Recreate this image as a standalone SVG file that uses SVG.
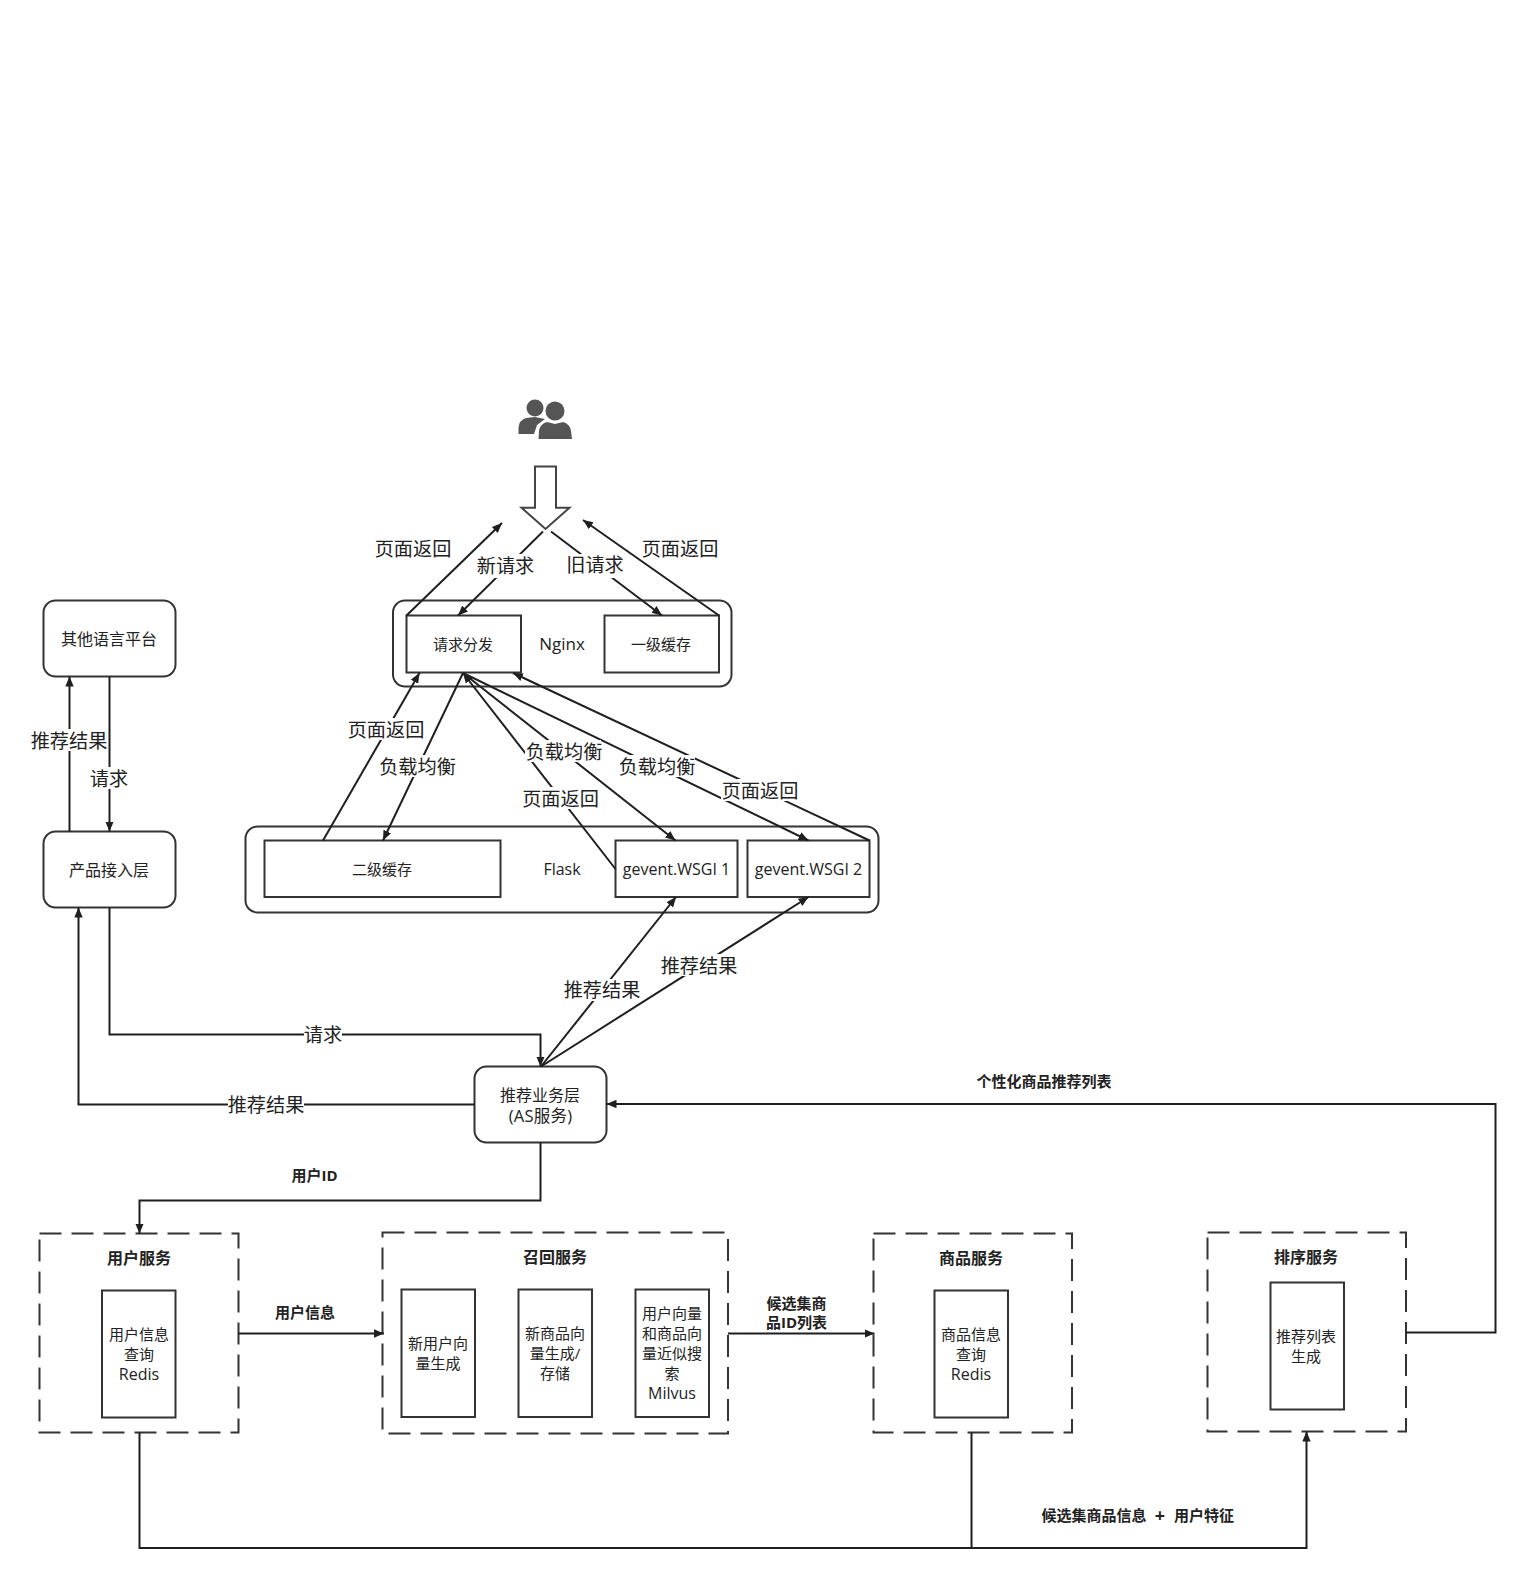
<svg xmlns="http://www.w3.org/2000/svg" width="1539" height="1592" viewBox="0 0 1539 1592">
<style>
text{font-family:"Open Sans","Noto Sans CJK SC",sans-serif;fill:#222;text-anchor:middle;dominant-baseline:central}
.s{font-size:15px}.m{font-size:16px}.l{font-size:19.200px}.b{font-size:16px;font-weight:700}.bs{font-size:15px;font-weight:700}
.box{fill:#fff;stroke:#333;stroke-width:2}
.dash{fill:none;stroke:#333;stroke-width:2;stroke-dasharray:22 10}
.c{fill:none;stroke:#1f1f1f;stroke-width:2}
.a{marker-end:url(#ah)}
.bg{fill:#fff;stroke:none}
</style>
<defs><marker id="ah" markerUnits="userSpaceOnUse" markerWidth="11" markerHeight="10" refX="10" refY="5" orient="auto"><path d="M0 0.8L10 5L0 9.2Z" fill="#1f1f1f"/></marker></defs>
<rect width="1539" height="1592" fill="#fff"/>
<g id="users"><circle cx="535" cy="408" r="8.500" fill="#555"/><path d="M518.500 434L518.500 428Q519 420 526 418L535 417L545 419L537 425L534 434Z" fill="#555"/><circle cx="555" cy="411" r="9.500" fill="#555"/><path d="M538.500 439L539 431Q540 424 547 422L555 424L563 422Q570 424 571 431L572 439Z" fill="#555"/></g>
<g id="down-arrow"><path d="M535 466.500H556V507.700L569.500 507.700L545.500 529L521.500 507.700L535 507.700Z" fill="#fff" stroke="#444" stroke-width="2"/></g>
<g id="nginx"><rect class="box" x="393" y="600.500" width="338.500" height="86" rx="12"/><text x="562" y="643.500" style="font-size:17px">Nginx</text></g>
<g id="req-dispatch"><rect class="box" x="406.500" y="615.500" width="114.500" height="57"/><text class="s" x="463" y="644">请求分发</text></g>
<g id="cache1"><rect class="box" x="604.500" y="615.500" width="114.500" height="57"/><text class="s" x="661" y="644">一级缓存</text></g>
<g id="flask"><rect class="box" x="245.500" y="826.500" width="633" height="86" rx="12"/><text class="m" x="562" y="869">Flask</text></g>
<g id="cache2"><rect class="box" x="264.500" y="840.500" width="236" height="56.500"/><text class="s" x="382" y="869">二级缓存</text></g>
<g id="gevent1"><rect class="box" x="615.500" y="840.500" width="122" height="56.500"/><text class="m" x="676.500" y="869">gevent.WSGI 1</text></g>
<g id="gevent2"><rect class="box" x="747.500" y="840.500" width="122" height="56.500"/><text class="m" x="808.500" y="869">gevent.WSGI 2</text></g>
<g id="other-platform"><rect class="box" x="43.500" y="600.500" width="132" height="76" rx="12"/><text class="m" x="109" y="639">其他语言平台</text></g>
<g id="access"><rect class="box" x="43.500" y="831.500" width="132" height="76" rx="12"/><text class="m" x="109" y="870">产品接入层</text></g>
<g id="as"><rect class="box" x="474.500" y="1066.500" width="132" height="76" rx="12"/><text class="m" x="540" y="1095">推荐业务层</text><text class="m" x="540.500" y="1115.500" style="font-size:16.500px;letter-spacing:.2px">(AS服务)</text></g>
<g id="user-service"><rect class="dash" x="39.500" y="1233.500" width="199" height="199"/><text class="b" x="139" y="1258">用户服务</text><rect class="box" x="102" y="1290.500" width="73.500" height="127"/><text class="s" x="139" y="1333.500">用户信息</text><text class="s" x="139" y="1354">查询</text><text class="m" x="139" y="1374">Redis</text></g>
<g id="recall-service"><rect class="dash" x="382.500" y="1232.500" width="345.500" height="201"/><text class="b" x="555" y="1257">召回服务</text>
<rect class="box" x="401.500" y="1289.500" width="73.500" height="127.500"/><text class="s" x="438" y="1343">新用户向</text><text class="s" x="438" y="1363">量生成</text>
<rect class="box" x="518.500" y="1289.500" width="73.500" height="127.500"/><text class="s" x="555" y="1333">新商品向</text><text class="s" x="555" y="1353">量生成/</text><text class="s" x="555" y="1373">存储</text>
<rect class="box" x="635.500" y="1289.500" width="73.500" height="127.500"/><text class="s" x="672" y="1313">用户向量</text><text class="s" x="672" y="1333">和商品向</text><text class="s" x="672" y="1353">量近似搜</text><text class="s" x="672" y="1373">索</text><text class="m" x="672" y="1393">Milvus</text></g>
<g id="item-service"><rect class="dash" x="873.500" y="1233.500" width="198.500" height="199"/><text class="b" x="971" y="1258">商品服务</text><rect class="box" x="934.500" y="1290.500" width="73.500" height="127"/><text class="s" x="971" y="1333.500">商品信息</text><text class="s" x="971" y="1354">查询</text><text class="m" x="971" y="1374">Redis</text></g>
<g id="rank-service"><rect class="dash" x="1207.500" y="1232.500" width="198.500" height="199"/><text class="b" x="1306" y="1257">排序服务</text><rect class="box" x="1270.500" y="1282.500" width="73.500" height="127"/><text class="s" x="1306" y="1336">推荐列表</text><text class="s" x="1306" y="1356">生成</text></g>
<g id="connectors">
<path class="c a" d="M543 531.500L458 615.500"/><path class="c a" d="M551 531.500L662 615.500"/>
<path class="c a" d="M406.500 615.500L502 523"/><path class="c a" d="M719 615.500L583 520"/>
<path class="c a" d="M323 840.500L419.500 673"/><path class="c a" d="M463 673L383 840.500"/>
<path class="c a" d="M463 673L675.500 840.500"/><path class="c a" d="M615.500 869L463 673"/>
<path class="c a" d="M463 673L808.500 840.500"/><path class="c a" d="M869.500 840.500L513 673"/>
<path class="c a" d="M69.500 831.500V676.500"/><path class="c a" d="M109.500 676.500V831.500"/>
<path class="c a" d="M109.500 907.500V1034.500H540.500V1066.500"/><path class="c a" d="M474.500 1104.500H78.500V907.500"/>
<path class="c a" d="M541 1066.500L676 897"/><path class="c a" d="M541 1066.500L808.500 897"/>
<path class="c a" d="M540.500 1142.500V1200.500H139.500V1233.500"/>
<path class="c a" d="M238.500 1333.500H384"/><path class="c a" d="M728 1333.500H874.500"/>
<path class="c a" d="M1406 1332.500H1495.500V1104H606.500"/>
<path class="c a" d="M139.500 1432.500V1548H1306.500V1431.500"/><path class="c" d="M971.500 1432.500V1548"/>
<g id="labels">
<rect class="bg" x="375" y="538" width="76" height="22"/><text class="l" x="413" y="548.500">页面返回</text>
<rect class="bg" x="642" y="538" width="76" height="22"/><text class="l" x="680" y="548.500">页面返回</text>
<rect class="bg" x="476" y="554" width="60" height="24"/><text class="l" x="505.500" y="565.500">新请求</text>
<rect class="bg" x="565" y="554" width="60" height="24"/><text class="l" x="595" y="564.500">旧请求</text>
<rect class="bg" x="348" y="718" width="76" height="22"/><text class="l" x="386" y="729.500">页面返回</text>
<rect class="bg" x="379" y="755" width="76" height="22"/><text class="l" x="417.500" y="766">负载均衡</text>
<rect class="bg" x="525" y="740" width="76" height="22"/><text class="l" x="564" y="751.500">负载均衡</text>
<rect class="bg" x="522" y="787" width="76" height="22"/><text class="l" x="560.500" y="798.500">页面返回</text>
<rect class="bg" x="619" y="755" width="76" height="22"/><text class="l" x="657" y="766">负载均衡</text>
<rect class="bg" x="721" y="779" width="76" height="22"/><text class="l" x="760" y="790.500">页面返回</text>
<rect class="bg" x="31" y="729" width="76" height="22"/><text class="l" x="69" y="740">推荐结果</text>
<rect class="bg" x="90" y="767" width="40" height="22"/><text class="l" x="109" y="778">请求</text>
<rect class="bg" x="304" y="1024" width="38" height="22"/><text class="l" x="323" y="1034.500">请求</text>
<rect class="bg" x="228" y="1093" width="76" height="22"/><text class="l" x="266" y="1104">推荐结果</text>
<rect class="bg" x="564" y="979" width="76" height="22"/><text class="l" x="602" y="989.500">推荐结果</text>
<rect class="bg" x="660" y="954" width="76" height="22"/><text class="l" x="699" y="965">推荐结果</text>
<text class="bs" x="314.500" y="1175">用户ID</text><text class="bs" x="305" y="1312">用户信息</text>
<text class="bs" x="796.500" y="1303">候选集商</text><text class="bs" x="796.500" y="1322">品ID列表</text>
<text class="bs" x="1044" y="1081">个性化商品推荐列表</text>
<text class="bs" x="1094" y="1515">候选集商品信息</text><text class="bs" x="1160" y="1515" style="font-size:18px">+</text><text class="bs" x="1204" y="1515">用户特征</text>
</g></g>
</svg>
